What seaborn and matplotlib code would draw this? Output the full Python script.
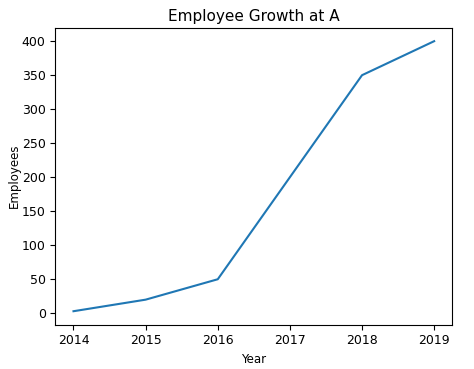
import matplotlib
matplotlib.use('Agg')
import matplotlib.pyplot as plt
import seaborn as sns
import pandas as pd

years = [2014, 2015, 2016, 2017, 2018, 2019]
employees = [3, 20, 50, 200, 350, 400]

df = pd.DataFrame({'Year': years, 'Employees': employees})

plt.rcParams['font.family'] = ['DejaVu Sans']
plt.rcParams['font.size'] = 9

fig, ax = plt.subplots(figsize=(4.74, 3.69), dpi=100)
sns.lineplot(data=df, x='Year', y='Employees', ax=ax, color='#1f77b4', linewidth=1.5)
ax.set_title('Employee Growth at A', fontsize=11, pad=5)
ax.set_xlabel('Year', fontsize=8.5)
ax.set_ylabel('Employees', fontsize=8.5, labelpad=1)
ax.set_xticks(years)
ax.set_yticks(range(0, 401, 50))
fig.subplots_adjust(left=0.117, right=0.954, top=0.925, bottom=0.12)
plt.savefig('out.png', dpi=100)
